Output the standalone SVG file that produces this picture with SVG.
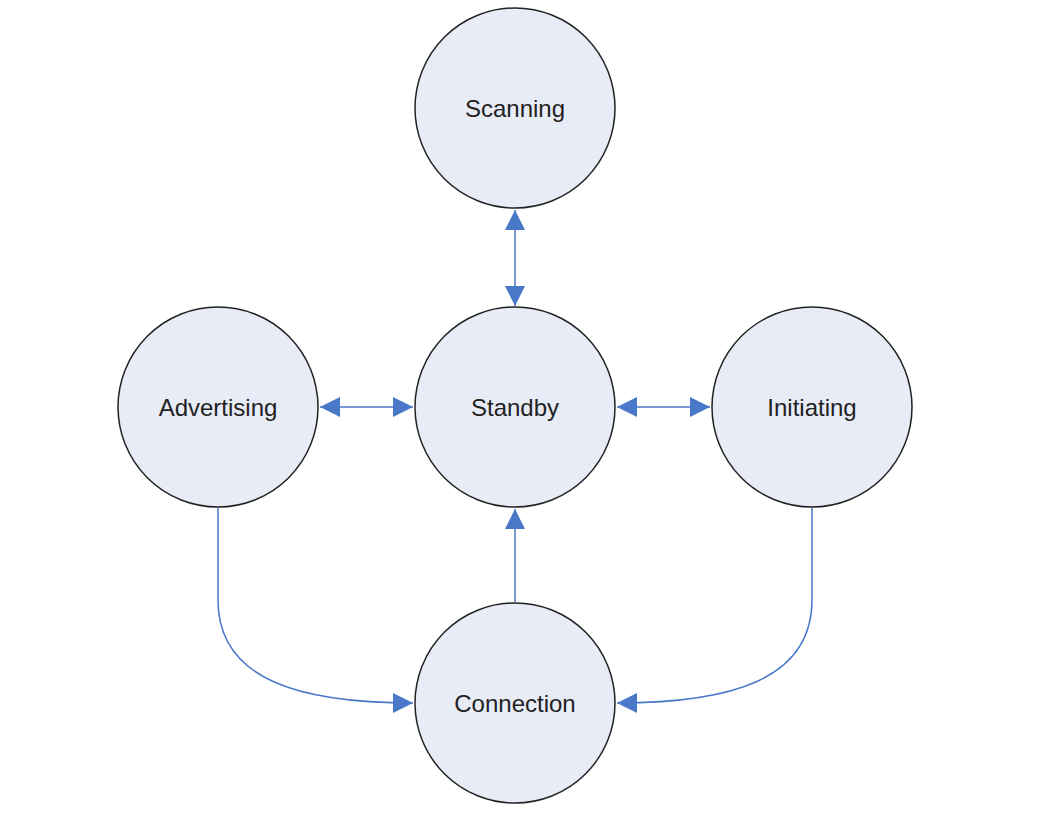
<svg xmlns="http://www.w3.org/2000/svg" width="1038" height="815" viewBox="0 0 1038 815">
<style>
.n{fill:#e8ecf7;stroke:#222;stroke-width:1.5}
.t{font-family:"Liberation Sans",Arial,sans-serif;font-size:24px;fill:#222;text-anchor:middle;dominant-baseline:central}
.c{fill:none;stroke:#4a78c8;stroke-width:1.5}
</style>
<defs>
<marker id="a" viewBox="0 0 10 10" refX="10" refY="5" markerWidth="20" markerHeight="20" markerUnits="userSpaceOnUse" orient="auto-start-reverse">
<path d="M0,0L10,5L0,10z" fill="#4a78c8"/>
</marker>
</defs>
<rect width="1038" height="815" fill="#fff"/>
<g id="connectors">
<line class="c" x1="515" y1="210" x2="515" y2="306" marker-start="url(#a)" marker-end="url(#a)"/>
<line class="c" x1="320" y1="407" x2="413" y2="407" marker-start="url(#a)" marker-end="url(#a)"/>
<line class="c" x1="617" y1="407" x2="710" y2="407" marker-start="url(#a)" marker-end="url(#a)"/>
<line class="c" x1="515" y1="602" x2="515" y2="509" marker-end="url(#a)"/>
<path class="c" d="M218,508 L218,600 C218,680 300,703 413,703" marker-end="url(#a)"/>
<path class="c" d="M812,508 L812,600 C812,680 730,703 617,703" marker-end="url(#a)"/>
</g>
<g id="scanning"><circle class="n" cx="515" cy="108" r="100"/><text class="t" x="515" y="108">Scanning</text></g>
<g id="standby"><circle class="n" cx="515" cy="407" r="100"/><text class="t" x="515" y="407">Standby</text></g>
<g id="advertising"><circle class="n" cx="218" cy="407" r="100"/><text class="t" x="218" y="407">Advertising</text></g>
<g id="initiating"><circle class="n" cx="812" cy="407" r="100"/><text class="t" x="812" y="407">Initiating</text></g>
<g id="connection"><circle class="n" cx="515" cy="703" r="100"/><text class="t" x="515" y="703">Connection</text></g>
</svg>
